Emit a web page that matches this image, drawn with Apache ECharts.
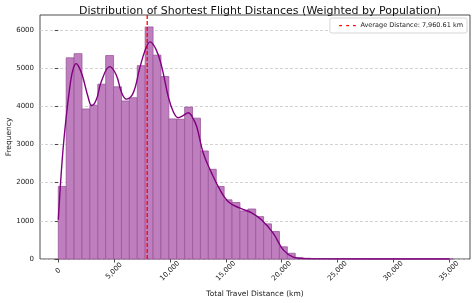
<!DOCTYPE html>
<html>
<head>
    <meta charset="UTF-8">
    <title>Distribution of Shortest Flight Distances</title>
    <script src="https://cdn.jsdelivr.net/npm/echarts@6/dist/echarts.min.js"></script>
    <style>
        html, body { margin: 0; padding: 0; background: #fff; }
        #chart { width: 474px; height: 303px; }
    </style>
</head>
<body>
    <div id="chart"></div>
    <script>
        // histogram: 50 bins starting at 0 km
        var binStart = 0;
        var binWidth = 707;
        var binCounts = [
            1900, 5270, 5380, 3930, 4030, 4580, 5330, 4510, 4140, 4225,
            5065, 6080, 5340, 4780, 3670, 3660, 3980, 3690, 2830, 2350,
            1900, 1550, 1480, 1260, 1310, 1110, 920, 720, 320, 150,
            40, 20, 12, 8, 6, 5, 4, 3, 3, 2,
            2, 2, 1, 1, 1, 1, 1, 1, 1, 1
        ];
        // KDE curve: [km, density scaled to counts]
        var kdePoints = [
            [0, 1030], [350, 2600], [700, 3700], [1100, 4650], [1350, 5000], [1600, 5120],
            [1900, 5000], [2230, 4730], [2660, 4250], [2990, 4020], [3400, 4170], [3850, 4650],
            [4600, 5040], [5190, 4820], [5640, 4380], [6090, 4190], [6690, 4340], [7290, 5000],
            [7790, 5480], [8210, 5690], [8770, 5480], [9257, 5040], [9848, 4250], [10295, 3860],
            [10743, 3700], [11200, 3760], [11638, 3830], [12000, 3720], [12390, 3470], [12980, 2770],
            [13730, 2250], [14480, 1810], [15220, 1500], [16270, 1330], [17310, 1210], [18210, 1020],
            [19250, 670], [20140, 240], [21040, 50], [22000, 10], [24000, 3], [35000, 1]
        ];
        var meanDistance = 7960.61;
        var meanLabel = 'Average Distance: 7,960.61 km';
        var xTicks = [0, 5000, 10000, 15000, 20000, 25000, 30000, 35000];
        var yTicks = [0, 1000, 2000, 3000, 4000, 5000, 6000];

        var histData = binCounts.map(function (c, i) {
            return [binStart + i * binWidth, binStart + (i + 1) * binWidth, c];
        });

        var font = 'DejaVu Sans';
        var yMax = 6393;

        var option = {
            backgroundColor: '#fff',
            animation: false,
            title: {
                text: 'Distribution of Shortest Flight Distances (Weighted by Population)',
                left: 255,
                textAlign: 'center',
                top: 1,
                textStyle: { fontFamily: font, fontSize: 11, fontWeight: 'normal', color: '#111' }
            },
            legend: {
                right: 7,
                top: 18,
                data: [{ name: meanLabel, icon: 'none' }],
                itemWidth: 1,
                itemHeight: 7,
                padding: [3, 4, 3, 3],
                borderColor: '#d6d6d6',
                borderWidth: 1,
                borderRadius: 2,
                backgroundColor: '#fff',
                formatter: function (name) { return '{d|- - -}  ' + name; },
                textStyle: {
                    fontFamily: font, fontSize: 6.5, color: '#222',
                    rich: { d: { fontFamily: font, fontSize: 9, fontWeight: 'bold', color: '#ff0000' } }
                }
            },
            grid: {
                left: 40, right: 4, top: 15, bottom: 44,
                outerBoundsMode: 'none',
                show: true, borderColor: '#222', borderWidth: 0.8
            },
            xAxis: {
                type: 'value',
                min: -1638,
                max: 36858,
                name: 'Total Travel Distance (km)',
                nameLocation: 'middle',
                nameGap: 31,
                nameMoveOverlap: false,
                nameTextStyle: { fontFamily: font, fontSize: 7.5, color: '#222' },
                axisLine: { show: false },
                axisTick: { show: true, length: 3.5, customValues: xTicks, lineStyle: { color: '#222', width: 0.8 } },
                axisLabel: {
                    customValues: xTicks,
                    rotate: 45,
                    align: 'center',
                    verticalAlign: 'middle',
                    margin: 12,
                    fontFamily: font,
                    fontSize: 7,
                    color: '#222',
                    formatter: function (v) { return v.toLocaleString('en-US'); }
                },
                splitLine: { show: false }
            },
            yAxis: {
                type: 'value',
                min: 0,
                max: yMax,
                interval: 1000,
                name: 'Frequency',
                nameLocation: 'middle',
                nameGap: 27,
                nameMoveOverlap: false,
                nameTextStyle: { fontFamily: font, fontSize: 7.5, color: '#222' },
                axisLine: { show: false },
                axisTick: { show: true, length: 3.5, customValues: yTicks, lineStyle: { color: '#222', width: 0.8 } },
                axisLabel: {
                    customValues: yTicks,
                    margin: 6,
                    fontFamily: font,
                    fontSize: 7,
                    color: '#222',
                    formatter: function (v) { return String(v); }
                },
                splitLine: { show: true, lineStyle: { color: '#c8c8c8', width: 0.8, type: [3, 2] } }
            },
            series: [
                {
                    name: 'hist',
                    type: 'custom',
                    data: histData,
                    encode: { x: [0, 1], y: 2 },
                    renderItem: function (params, api) {
                        var p0 = api.coord([api.value(0), api.value(2)]);
                        var p1 = api.coord([api.value(1), 0]);
                        return {
                            type: 'rect',
                            shape: { x: p0[0], y: p0[1], width: p1[0] - p0[0], height: p1[1] - p0[1] },
                            style: { fill: '#bf7fbf', stroke: '#9a579a', lineWidth: 0.8 }
                        };
                    },
                    z: 2
                },
                {
                    name: 'kde',
                    type: 'line',
                    data: kdePoints,
                    smooth: 0.4,
                    symbol: 'none',
                    lineStyle: { color: '#800080', width: 1.4 },
                    z: 3
                },
                {
                    name: meanLabel,
                    type: 'line',
                    data: [[meanDistance, 0], [meanDistance, yMax]],
                    symbol: 'none',
                    itemStyle: { color: '#ff0000' },
                    lineStyle: { color: '#ff0000', width: 1.3, type: [4, 2] },
                    z: 4
                }
            ]
        };

        var myChart = echarts.init(document.getElementById('chart'));
        myChart.setOption(option);
    </script>
</body>
</html>
